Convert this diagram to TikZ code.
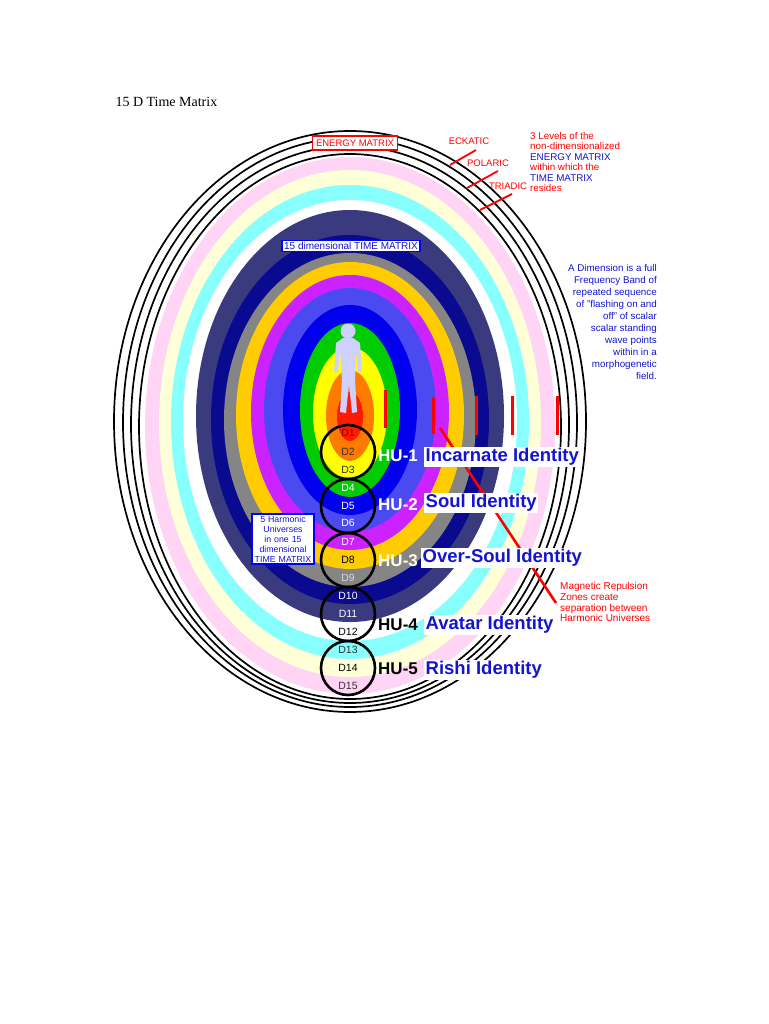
\documentclass[tikz,border=0pt]{standalone}
\usepackage{fontspec}
\setmainfont{Liberation Sans}
\newfontfamily\seriff{Liberation Serif}
\begin{document}
\begin{tikzpicture}[x=1pt,y=-1pt,
  band/.style={fill=#1},
  ring/.style={draw=black,line width=1.7pt},
  dcirc/.style={draw=black,line width=2.6pt,circle,minimum size=54pt,inner sep=0pt},
  dlab/.style={font=\fontsize{10.5}{10.5}\selectfont,inner sep=0pt},
  hulab/.style={font=\fontsize{17}{17}\selectfont\bfseries,inner sep=0pt,anchor=west},
  idlab/.style={font=\fontsize{18.5}{18.5}\selectfont\bfseries,text=idblue,fill=white,inner sep=1.5pt,anchor=west},
  redbar/.style={draw=red,line width=3pt},
  small/.style={font=\fontsize{9.5}{11}\selectfont,inner sep=0pt}]
\definecolor{slate}{HTML}{3A3A7E}
\definecolor{dkblue}{HTML}{0A0A90}
\definecolor{gry}{HTML}{858585}
\definecolor{gold}{HTML}{FFCC00}
\definecolor{mag}{HTML}{CC22FF}
\definecolor{viol}{HTML}{4A4AF0}
\definecolor{blu}{HTML}{0000EE}
\definecolor{grn}{HTML}{00CC00}
\definecolor{yel}{HTML}{FFFF00}
\definecolor{org}{HTML}{FF7A00}
\definecolor{rd}{HTML}{FF1A00}
\definecolor{cyn}{HTML}{88FFFF}
\definecolor{crm}{HTML}{FFFFD8}
\definecolor{pnk}{HTML}{FFD4F4}
\definecolor{idblue}{HTML}{1414D0}
\definecolor{fig}{HTML}{D0D0FF}
\useasboundingbox (0,0) rectangle (768,1024);
\node[anchor=west,font=\seriff\fontsize{14}{14}\selectfont] (title) at (112,102) {15 D Time Matrix};
% black rings
\foreach \t/\b/\a in {131/712/236,138/707/227,146/703/219,154/699/211}{
  \draw[ring] (350,{(\t+\b)/2}) ellipse [x radius=\a, y radius={(\b-\t)/2}];}
% bands
\foreach \t/\b/\a/\c in {157/694/205/pnk,170/677/191/crm,185/659/179/cyn,200/641/167/white,210/622/154/slate,235/604/139/dkblue,253/587/126/gry,262/569/114/gold,275/550/99/mag,288/532/86/viol,305/515/67/blu,323/497/50/grn,347/479/37/yel,370/461/24/org,392/441/13/rd}{
  \fill[\c] (350,{(\t+\b)/2}) ellipse [x radius=\a, y radius={(\b-\t)/2}];}
% human figure
\fill[fig] (348,331) circle (7.5);
\fill[fig] (343,338) -- (353,338) -- (360,343) -- (362,372) -- (358,372) -- (356,350) -- (355,380) -- (357,412) -- (352,413) -- (349,384) -- (346,413) -- (340,412) -- (342,380) -- (340,350) -- (338,372) -- (334,372) -- (336,343) -- cycle;
% top labels
\node[draw=red,line width=1.5pt,fill=white,text=red,font=\fontsize{9.5}{9.5}\selectfont,inner sep=3.5pt] (em) at (355,143) {ENERGY MATRIX};
\node[draw=blue,line width=1.3pt,fill=white,text=idblue,font=\fontsize{10}{10}\selectfont,inner sep=2pt] (tm) at (351,246) {15 dimensional TIME MATRIX};
\node[text=red,small] (eck) at (469,141) {ECKATIC};
\node[text=red,small] (pol) at (488,163) {POLARIC};
\node[text=red,small] (tri) at (508,186) {TRIADIC};
\coordinate (e1) at (450,165); \coordinate (e2) at (476,150);
\coordinate (p1) at (467,188); \coordinate (p2) at (498,171);
\coordinate (t1) at (480,210); \coordinate (t2) at (512,194);
\draw[red,line width=1.8pt] (e1) -- (e2);
\draw[red,line width=1.8pt] (p1) -- (p2);
\draw[red,line width=1.8pt] (t1) -- (t2);
\node[small,anchor=north west,align=left,font=\fontsize{9.8}{10.5}\selectfont] (lev) at (530,132) {\textcolor{red}{3 Levels of the}\\\textcolor{red}{non-dimensionalized}\\\textcolor{idblue}{ENERGY MATRIX}\\\textcolor{red}{within which the}\\\textcolor{idblue}{TIME MATRIX}\\\textcolor{red}{resides}};
\node[small,anchor=north east,align=right,text=idblue,font=\fontsize{9.8}{12}\selectfont] (dim) at (657,264) {A Dimension is a full\\Frequency Band of\\repeated sequence\\of "flashing on and\\off" of scalar\\scalar standing\\wave points\\within in a\\morphogenetic\\field.};
% red bars
\foreach \x/\ya/\yb in {385/390/428,433/397/434,476/396/435,512/396/435,557/396/435}{
  \draw[redbar] (\x,\ya) -- (\x,\yb);}
\coordinate (m1) at (440,428); \coordinate (m2) at (556,603);
\draw[red,line width=2.6pt] (m1) -- (m2);
\node[small,anchor=north west,align=left,text=red,font=\fontsize{10}{10.8}\selectfont] (mag) at (560,582) {Magnetic Repulsion\\Zones create\\separation between\\Harmonic Universes};
% HU circles
\foreach \n/\y in {1/452,2/506,3/560,4/614,5/668}{\node[dcirc] (hu\n) at (348,\y) {};}
\foreach \n/\y/\c in {1/433/rd!50!black,2/452/black!80,3/470/black!80,4/488/white,5/506/white,6/523/white,7/542/white,8/560/black,9/578/white!85!black,10/596/white,11/614/white,12/632/black,13/650/black!80,14/668/black,15/686/black!80}{
  \node[dlab,text=\c] (d\n) at (348,\y) {D\n};}
\node[hulab,text=white] (h1) at (378,456) {HU-1};
\node[hulab,text=white] (h2) at (378,505) {HU-2};
\node[hulab,text=white!90!yellow] (h3) at (378,561) {HU-3};
\node[hulab,text=black] (h4) at (378,625) {HU-4};
\node[hulab,text=black] (h5) at (378,669) {HU-5};
\node[idlab] (i1) at (424,457) {Incarnate Identity};
\node[idlab] (i2) at (424,503) {Soul Identity};
\node[idlab] (i3) at (421,558) {Over-Soul Identity};
\node[idlab] (i4) at (424,625) {Avatar Identity};
\node[idlab] (i5) at (424,670) {Rishi Identity};
\node[draw=blue,line width=1.5pt,fill=white,text=idblue,align=center,font=\fontsize{8.8}{10}\selectfont,inner sep=2pt,text width=58pt] (five) at (283,539) {5 Harmonic Universes in one 15 dimensional TIME MATRIX};
\end{tikzpicture}
\end{document}
